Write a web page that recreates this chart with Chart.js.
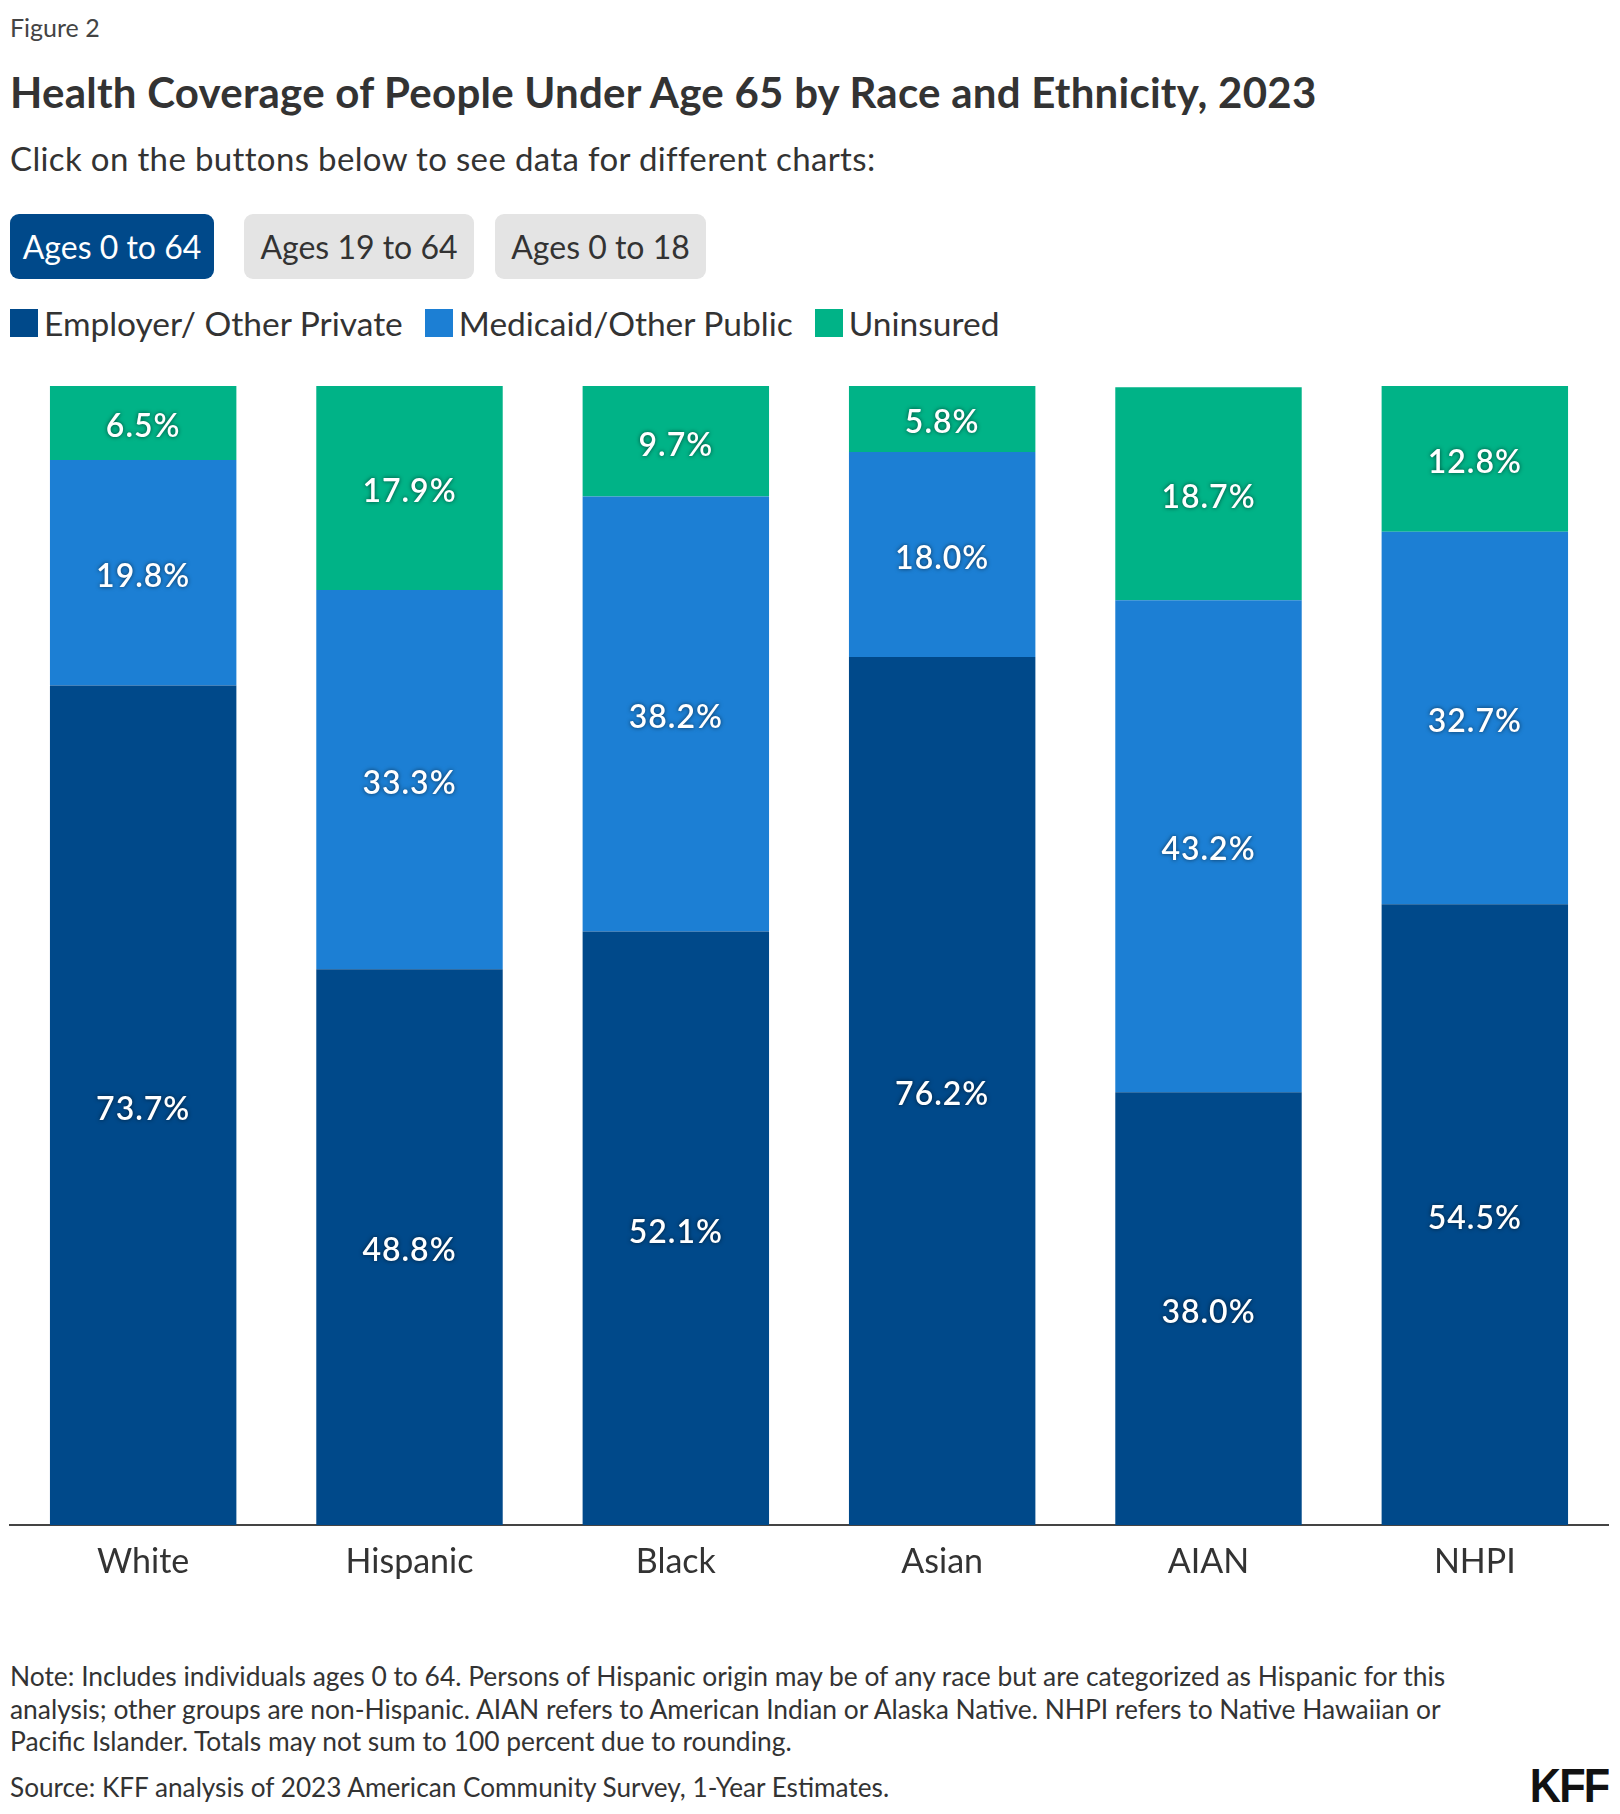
<!DOCTYPE html>
<html>
<head>
<meta charset="utf-8">
<script src="https://cdn.jsdelivr.net/npm/chart.js@4.4.1/dist/chart.umd.min.js"></script>
<style>
  body { margin: 0; background: #fff; font-family: Lato, "Open Sans", sans-serif; color: #333; }
  #page { position: relative; width: 1620px; height: 1814px; overflow: hidden; }
  .abs { position: absolute; white-space: nowrap; }
  #fig { left: 10px; top: 12px; font-size: 25px; line-height: 30px; color: #444; }
  #title { left: 10px; top: 67px; font-size: 42px; line-height: 50px; letter-spacing: 0.25px; font-weight: 700; color: #333; }
  #sub { left: 10px; top: 138px; font-size: 33px; line-height: 40px; letter-spacing: 0.35px; color: #333; }
  .btn { position: absolute; top: 214px; height: 65px; line-height: 65px; font-size: 32px; border-radius: 9px;
         background: #e4e4e4; color: #333; text-align: center; }
  .btn.active { background: #00498a; color: #fff; }
  #legend { left: 10px; top: 303px; height: 40px; font-size: 33.5px; display: flex; align-items: center; }
  .lg { display: flex; align-items: center; margin-right: 22px; }
  .sw { width: 28px; height: 28px; margin-right: 6px; }
  #chartBox { position: absolute; left: 0; top: 360px; width: 1620px; height: 1250px; }
  #note { left: 10px; top: 1660px; font-size: 26.4px; line-height: 32.5px; color: #333; }
  #source { left: 10px; top: 1771px; font-size: 26.2px; color: #333; }
  #kff { right: 12px; top: 1758px; font-size: 48px; font-weight: 900; color: #111; letter-spacing: -2px;
         font-family: "Liberation Sans Narrow", "Liberation Sans", sans-serif; transform: scaleX(0.9); transform-origin: right; }
</style>
</head>
<body>
<div id="page">
  <div class="abs" id="fig">Figure 2</div>
  <div class="abs" id="title">Health Coverage of People Under Age 65 by Race and Ethnicity, 2023</div>
  <div class="abs" id="sub">Click on the buttons below to see data for different charts:</div>
  <div class="btn active" style="left:10px;width:204px;">Ages 0 to 64</div>
  <div class="btn" style="left:244px;width:230px;">Ages 19 to 64</div>
  <div class="btn" style="left:495px;width:211px;">Ages 0 to 18</div>
  <div class="abs" id="legend"></div>
  <div id="chartBox"><canvas id="coverageChart"></canvas></div>
  <div class="abs" id="note">Note: Includes individuals ages 0 to 64. Persons of Hispanic origin may be of any race but are categorized as Hispanic for this<br>analysis; other groups are non-Hispanic. AIAN refers to American Indian or Alaska Native. NHPI refers to Native Hawaiian or<br>Pacific Islander. Totals may not sum to 100 percent due to rounding.</div>
  <div class="abs" id="source">Source: KFF analysis of 2023 American Community Survey, 1-Year Estimates.</div>
  <div class="abs" id="kff">KFF</div>
</div>
<script>
const categories = ['White', 'Hispanic', 'Black', 'Asian', 'AIAN', 'NHPI'];
const employerPrivate = [73.7, 48.8, 52.1, 76.2, 38.0, 54.5];
const medicaidPublic = [19.8, 33.3, 38.2, 18.0, 43.2, 32.7];
const uninsured = [6.5, 17.9, 9.7, 5.8, 18.7, 12.8];
const seriesNames = ['Employer/ Other Private', 'Medicaid/Other Public', 'Uninsured'];
const seriesColors = ['#00498a', '#1c7fd4', '#00b387'];

// html legend
const legendEl = document.getElementById('legend');
seriesNames.forEach((name, i) => {
    const item = document.createElement('div');
    item.className = 'lg';
    item.innerHTML = `<span class="sw" style="background:${seriesColors[i]}"></span>${name}`;
    legendEl.appendChild(item);
});

// labels in the middle of each segment
const segmentLabels = {
    id: 'segmentLabels',
    afterDatasetsDraw(chart) {
        const ctx = chart.ctx;
        ctx.save();
        ctx.font = '600 32px Lato, sans-serif';
        ctx.letterSpacing = '1px';
        ctx.fillStyle = '#fff';
        ctx.textAlign = 'center';
        ctx.textBaseline = 'middle';
        ctx.shadowColor = 'rgba(0,0,0,0.6)';
        ctx.shadowBlur = 4;
        chart.data.datasets.forEach((ds, di) => {
            const meta = chart.getDatasetMeta(di);
            meta.data.forEach((bar, i) => {
                const p = bar.getProps(['x', 'y', 'base'], true);
                ctx.fillText(ds.data[i].toFixed(1) + '%', p.x, (p.y + p.base) / 2 + 4);
            });
        });
        ctx.restore();
    }
};

const ctx = document.getElementById('coverageChart').getContext('2d');
new Chart(ctx, {
    type: 'bar',
    data: {
        labels: categories,
        datasets: [
            { label: seriesNames[0], data: employerPrivate, backgroundColor: seriesColors[0] },
            { label: seriesNames[1], data: medicaidPublic, backgroundColor: seriesColors[1] },
            { label: seriesNames[2], data: uninsured, backgroundColor: seriesColors[2] }
        ]
    },
    options: {
        responsive: true,
        maintainAspectRatio: false,
        animation: false,
        datasets: { bar: { categoryPercentage: 0.7, barPercentage: 1.0 } },
        layout: { padding: { left: 10, right: 12, top: 26, bottom: 0 } },
        plugins: {
            legend: { display: false },
            tooltip: { enabled: false }
        },
        scales: {
            x: {
                stacked: true,
                grid: { display: false, drawTicks: false },
                border: { display: true, color: '#444', width: 2 },
                ticks: { color: '#333', padding: 17, font: { family: 'Lato', size: 34 } },
                afterFit: scale => { scale.height = 85; }
            },
            y: {
                stacked: true,
                display: false,
                min: 0,
                max: 100
            }
        }
    },
    plugins: [segmentLabels]
});
</script>
</body>
</html>
